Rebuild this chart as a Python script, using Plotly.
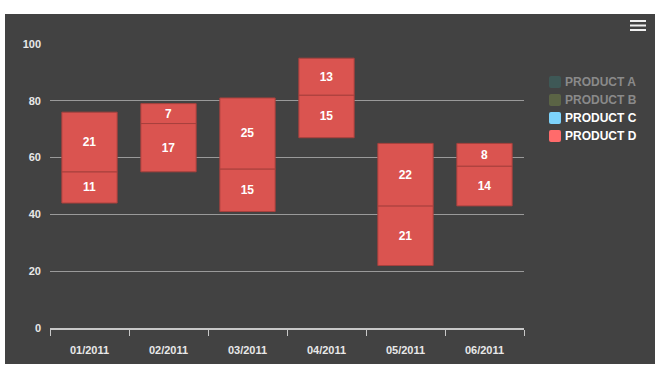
import plotly.graph_objects as go

categories = ["01/2011", "02/2011", "03/2011", "04/2011", "05/2011", "06/2011"]
base_values = [44, 55, 41, 67, 22, 43]
lower_values = [11, 17, 15, 15, 21, 14]
upper_values = [21, 7, 25, 13, 22, 8]
y_ticks = [0, 20, 40, 60, 80, 100]

legend_names = ["PRODUCT A", "PRODUCT B", "PRODUCT C", "PRODUCT D"]
legend_colors = ["#3e5856", "#5b6445", "#7dd3fb", "#ff6b6b"]
legend_text_colors = ["#8a8a8a", "#8a8a8a", "#ffffff", "#ffffff"]

BG = "#424242"
BAR = "#da5450"
BAR_LINE = "#a8403d"
FONT = "Liberation Sans, Arial, sans-serif"

fig = go.Figure()

mid_base = [b + l for b, l in zip(base_values, lower_values)]

for vals, bases in [(lower_values, base_values), (upper_values, mid_base)]:
    fig.add_trace(go.Bar(
        x=categories, y=vals, base=bases,
        marker=dict(color=BAR, line=dict(color=BAR_LINE, width=1)),
        text=vals, textposition="inside", insidetextanchor="middle",
        textfont=dict(color="white", size=12, family=FONT, weight="bold"),
        width=0.7, showlegend=False, textangle=0, hoverinfo="skip",
    ))

W, H = 668, 373
L, R, T, B = 50, 524, 44, 328
pw, ph = R - L, B - T

def px(x):
    return (x - L) / pw

def py(y):
    return (B - y) / ph

shapes = [dict(type="rect", xref="paper", yref="paper",
               x0=px(5), x1=px(655), y0=py(364), y1=py(14),
               fillcolor=BG, line=dict(width=0), layer="below")]
for yy in [21, 25.5, 30]:
    shapes.append(dict(type="line", xref="paper", yref="paper",
                       x0=px(630), x1=px(646), y0=py(yy), y1=py(yy),
                       line=dict(color="#f0f0f0", width=2)))

annotations = []
for i, (name, col, tcol) in enumerate(zip(legend_names, legend_colors, legend_text_colors)):
    cy = 82 + i * 18
    x0, x1, y0, y1 = 549, 561, cy - 6, cy + 6
    r = 2
    path = (f"M {px(x0 + r)} {py(y0)} L {px(x1 - r)} {py(y0)} Q {px(x1)} {py(y0)} {px(x1)} {py(y0 + r)} "
            f"L {px(x1)} {py(y1 - r)} Q {px(x1)} {py(y1)} {px(x1 - r)} {py(y1)} "
            f"L {px(x0 + r)} {py(y1)} Q {px(x0)} {py(y1)} {px(x0)} {py(y1 - r)} "
            f"L {px(x0)} {py(y0 + r)} Q {px(x0)} {py(y0)} {px(x0 + r)} {py(y0)} Z")
    shapes.append(dict(type="path", xref="paper", yref="paper", path=path,
                       fillcolor=col, line=dict(width=0)))
    annotations.append(dict(xref="paper", yref="paper", x=px(563), y=py(cy),
                            xanchor="left", yanchor="middle", showarrow=False,
                            text=name, font=dict(family=FONT, size=12, color=tcol, weight="bold")))

fig.update_layout(
    width=W, height=H,
    margin=dict(l=L, r=W - R, t=T, b=H - B),
    paper_bgcolor="white", plot_bgcolor="rgba(0,0,0,0)",
    barmode="overlay", showlegend=False,
    font=dict(family=FONT, color="#e0e0e0", size=11),
    shapes=shapes, annotations=annotations,
    xaxis=dict(type="category", showline=True, linecolor="#c8c8c8", linewidth=2,
               ticks="outside", tickson="boundaries", ticklen=6, tickcolor="#c8c8c8",
               tickwidth=1, showgrid=False, fixedrange=True, ticklabelstandoff=11,
               tickfont=dict(family=FONT, size=11, color="#e8e8e8", weight="bold")),
    yaxis=dict(range=[0, 100], tickvals=y_ticks, showgrid=True, gridcolor="#9a9a9a",
               gridwidth=1, zeroline=False, showline=False, ticks="",
               ticklabelstandoff=8, fixedrange=True,
               tickfont=dict(family=FONT, size=11, color="#e8e8e8", weight="bold")),
)

fig.write_html("out.html", config={"displayModeBar": False})
